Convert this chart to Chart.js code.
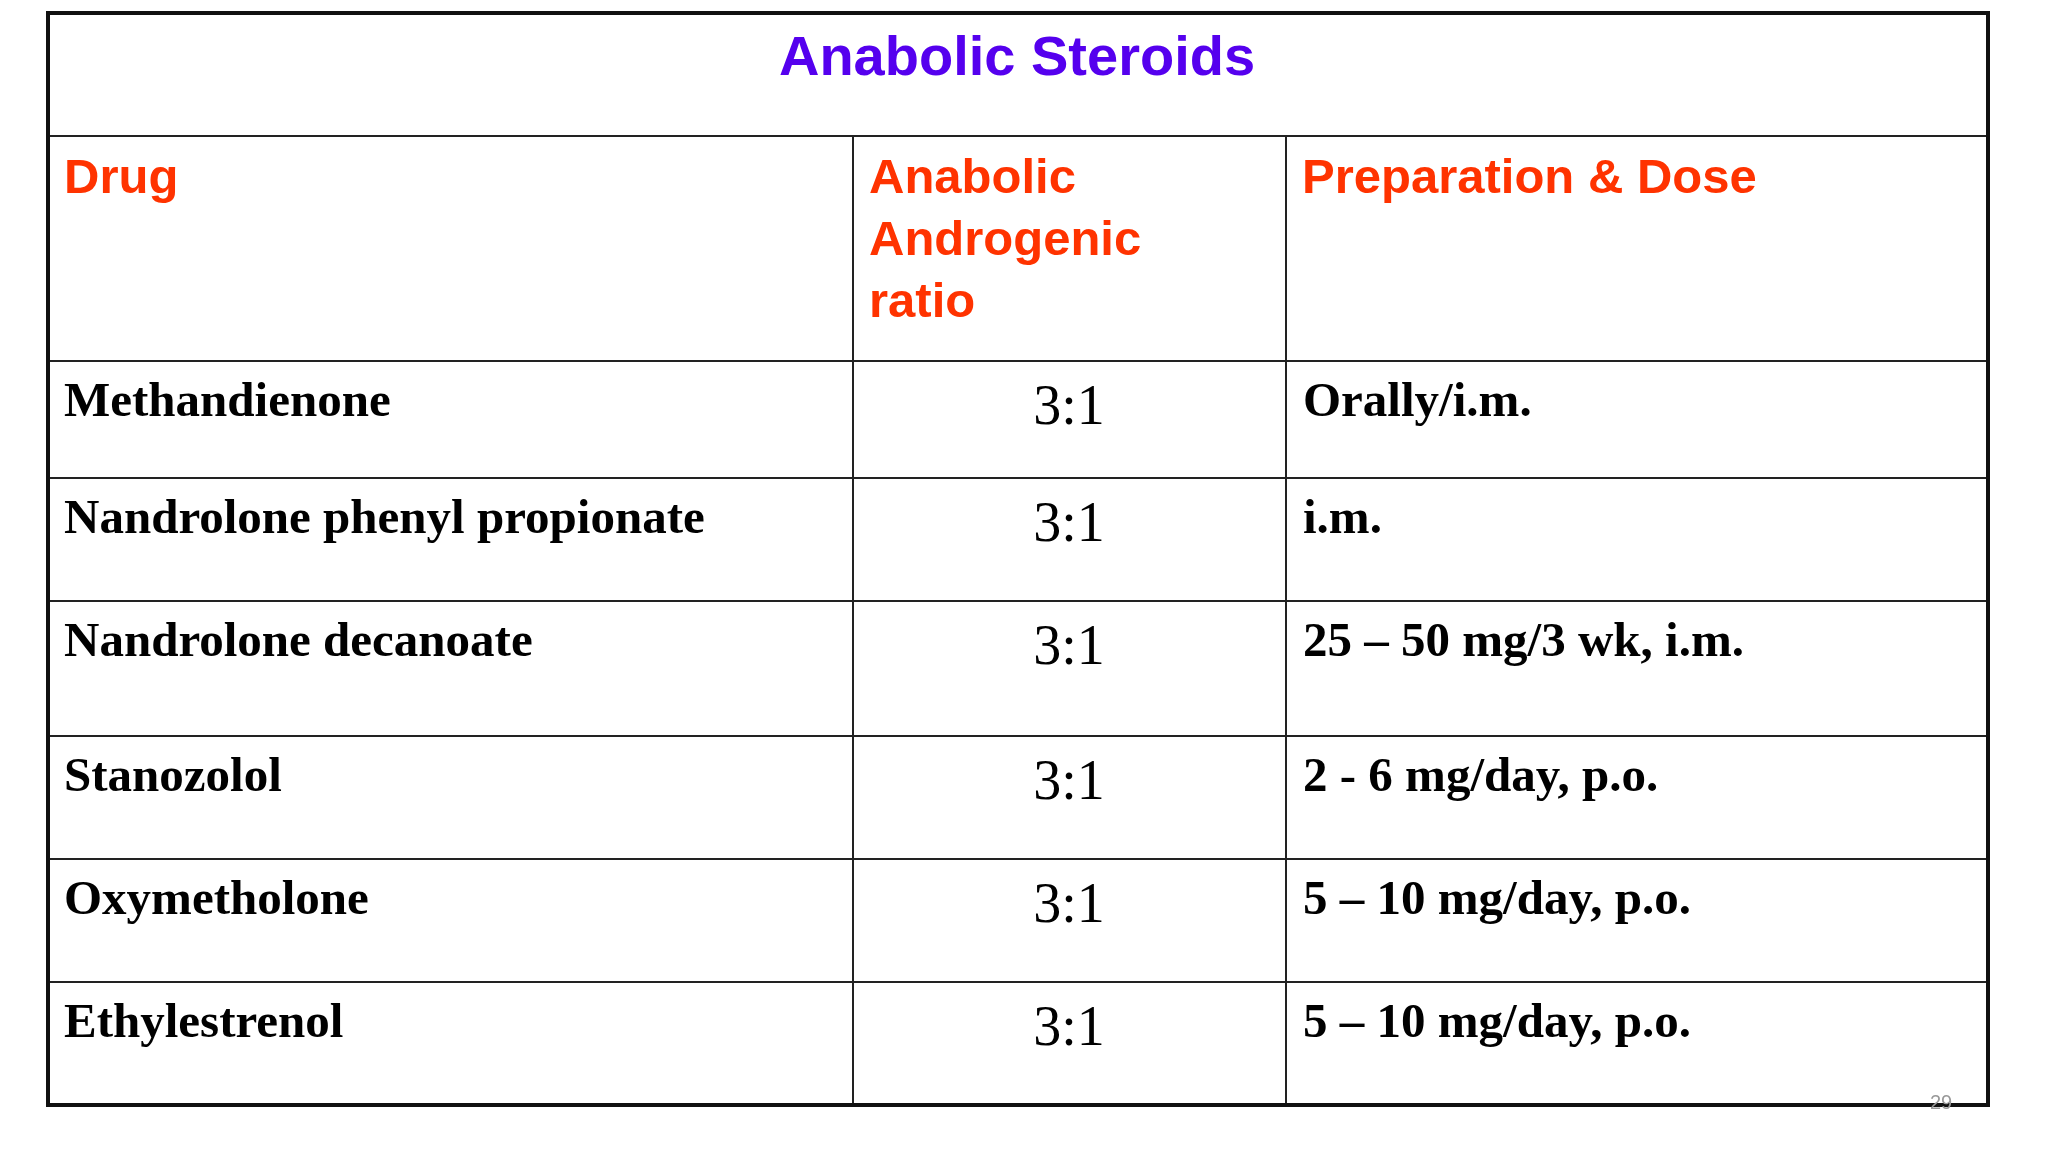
<!DOCTYPE html>
<html>
<head>
<meta charset="utf-8">
<script src="https://cdn.jsdelivr.net/npm/chart.js@4"></script>
<style>
html, body { margin: 0; padding: 0; background: #fff; }
#wrap { width: 2048px; height: 1152px; }
</style>
</head>
<body>
<div id="wrap"><canvas id="tableChart"></canvas></div>
<script>
const title = 'Anabolic Steroids';
const headers = [['Drug'], ['Anabolic', 'Androgenic', 'ratio'], ['Preparation & Dose']];
const drugs = ['Methandienone', 'Nandrolone phenyl propionate', 'Nandrolone decanoate', 'Stanozolol', 'Oxymetholone', 'Ethylestrenol'];
const ratios = ['3:1', '3:1', '3:1', '3:1', '3:1', '3:1'];
const doses = ['Orally/i.m.', 'i.m.', '25 \u2013 50 mg/3 wk, i.m.', '2 - 6 mg/day, p.o.', '5 \u2013 10 mg/day, p.o.', '5 \u2013 10 mg/day, p.o.'];

// grid lines in scale units (page is a 2048 x 1152 grid)
const colEdges = [48, 853, 1286, 1988];
const rowEdges = [13, 136, 361, 478, 601, 736, 859, 982, 1105];

const tablePlugin = {
    id: 'tablePlugin',
    afterDraw(chart) {
        const ctx = chart.ctx;
        const x = chart.scales.x, y = chart.scales.y;
        const px = v => x.getPixelForValue(v), py = v => y.getPixelForValue(v);
        ctx.save();
        // inner lines
        ctx.strokeStyle = '#222';
        ctx.lineWidth = 2;
        for (let i = 1; i < rowEdges.length - 1; i++) {
            ctx.beginPath();
            ctx.moveTo(px(colEdges[0]), py(rowEdges[i]));
            ctx.lineTo(px(colEdges[3]), py(rowEdges[i]));
            ctx.stroke();
        }
        for (let i = 1; i < colEdges.length - 1; i++) {
            ctx.beginPath();
            ctx.moveTo(px(colEdges[i]), py(rowEdges[1]));
            ctx.lineTo(px(colEdges[i]), py(rowEdges[8]));
            ctx.stroke();
        }
        // outer border
        ctx.lineWidth = 4;
        ctx.strokeStyle = '#111';
        ctx.strokeRect(px(colEdges[0]), py(rowEdges[0]), px(colEdges[3]) - px(colEdges[0]), py(rowEdges[8]) - py(rowEdges[0]));

        // title
        ctx.fillStyle = '#5500ee';
        ctx.font = 'bold 56px "Liberation Sans", Arial, sans-serif';
        ctx.textAlign = 'center';
        ctx.textBaseline = 'middle';
        ctx.fillText(title, px(1017), py(60));

        // headers
        ctx.fillStyle = '#ff3300';
        ctx.font = 'bold 49px "Liberation Sans", Arial, sans-serif';
        ctx.textAlign = 'left';
        headers.forEach((lines, c) => {
            lines.forEach((t, k) => ctx.fillText(t, px(colEdges[c] + 16), py(179 + k * 62)));
        });

        // body
        ctx.fillStyle = '#000';
        drugs.forEach((d, r) => {
            const top = rowEdges[r + 2];
            ctx.font = 'bold 49px "Liberation Serif", "Times New Roman", serif';
            ctx.textAlign = 'left';
            ctx.fillText(d, px(colEdges[0] + 16), py(top + 42));
            ctx.fillText(doses[r], px(colEdges[2] + 17), py(top + 42));
            ctx.font = '56px "Liberation Serif", "Times New Roman", serif';
            ctx.textAlign = 'center';
            ctx.fillText(ratios[r], px(1069), py(top + 48));
        });

        // slide number
        ctx.fillStyle = '#999';
        ctx.font = '20px "Liberation Sans", Arial, sans-serif';
        ctx.fillText('29', px(1941), py(1103));
        ctx.restore();
    }
};

const config = {
    type: 'scatter',
    data: { datasets: [{ data: [], pointRadius: 0 }] },
    options: {
        responsive: true,
        maintainAspectRatio: false,
        animation: false,
        layout: { padding: 0 },
        plugins: { legend: { display: false }, tooltip: { enabled: false } },
        scales: {
            x: { type: 'linear', min: 0, max: 2048, display: false },
            y: { type: 'linear', min: 0, max: 1152, reverse: true, display: false }
        }
    },
    plugins: [tablePlugin]
};
const myTable = new Chart(document.getElementById('tableChart'), config);
</script>
</body>
</html>
